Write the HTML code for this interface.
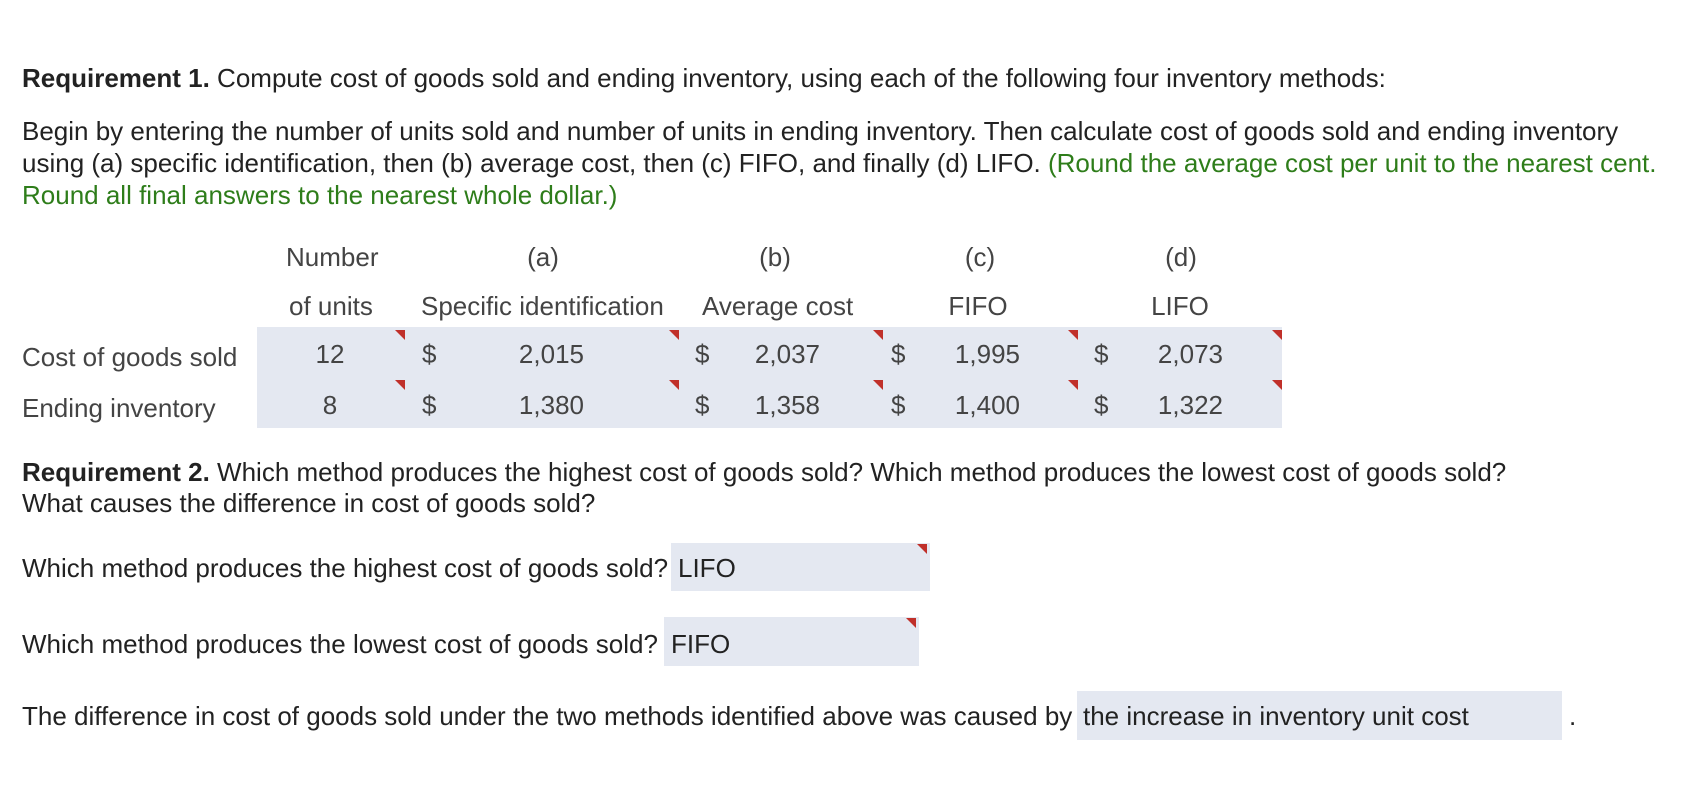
<!DOCTYPE html>
<html><head><meta charset="utf-8"><style>
body{margin:0;width:1692px;height:798px;background:#fff;font-family:"Liberation Sans",Arial,sans-serif;position:relative;overflow:hidden}
.t{position:absolute;white-space:nowrap;font-size:26px;color:#222;line-height:1}
.g{color:#2e7d1a}
.c{position:absolute;white-space:nowrap;font-size:26px;color:#444;line-height:1}
.m{transform:translateX(-50%)}
.r{transform:translateX(-100%)}
.bg{position:absolute;background:#e4e8f1}
.tri{position:absolute;width:0;height:0;border-top:10px solid #c0302a;border-left:10px solid transparent}
</style></head><body>
<div class="t" style="left:22px;top:65px"><b>Requirement 1.</b> Compute cost of goods sold and ending inventory, using each of the following four inventory methods:</div>
<div class="t" style="left:22px;top:118px">Begin by entering the number of units sold and number of units in ending inventory. Then calculate cost of goods sold and ending inventory</div>
<div class="t" style="left:22px;top:150px">using (a) specific identification, then (b) average cost, then (c) FIFO, and finally (d) LIFO. <span class="g">(Round the average cost per unit to the nearest cent.</span></div>
<div class="t g" style="left:22px;top:182px">Round all final answers to the nearest whole dollar.)</div>

<div class="bg" style="left:257px;top:327px;width:1025px;height:101px"></div>

<div class="c" style="left:286px;top:244px">Number</div>
<div class="c" style="left:289px;top:293px">of units</div>
<div class="c m" style="left:543px;top:244px">(a)</div>
<div class="c" style="left:421px;top:293px">Specific identification</div>
<div class="c m" style="left:775px;top:244px">(b)</div>
<div class="c" style="left:702px;top:293px">Average cost</div>
<div class="c m" style="left:980px;top:244px">(c)</div>
<div class="c m" style="left:978px;top:293px">FIFO</div>
<div class="c m" style="left:1181px;top:244px">(d)</div>
<div class="c m" style="left:1180px;top:293px">LIFO</div>

<div class="c" style="left:22px;top:344px">Cost of goods sold</div>
<div class="c" style="left:22px;top:395px">Ending inventory</div>

<div class="c m" style="left:330px;top:341px">12</div>
<div class="c m" style="left:330px;top:392px">8</div>

<div class="c" style="left:422px;top:341px">$</div>
<div class="c r" style="left:584px;top:341px">2,015</div>
<div class="c" style="left:422px;top:392px">$</div>
<div class="c r" style="left:584px;top:392px">1,380</div>

<div class="c" style="left:695px;top:341px">$</div>
<div class="c r" style="left:820px;top:341px">2,037</div>
<div class="c" style="left:695px;top:392px">$</div>
<div class="c r" style="left:820px;top:392px">1,358</div>

<div class="c" style="left:891px;top:341px">$</div>
<div class="c r" style="left:1020px;top:341px">1,995</div>
<div class="c" style="left:891px;top:392px">$</div>
<div class="c r" style="left:1020px;top:392px">1,400</div>

<div class="c" style="left:1094px;top:341px">$</div>
<div class="c r" style="left:1223px;top:341px">2,073</div>
<div class="c" style="left:1094px;top:392px">$</div>
<div class="c r" style="left:1223px;top:392px">1,322</div>

<div class="tri" style="left:395px;top:330px"></div>
<div class="tri" style="left:669px;top:330px"></div>
<div class="tri" style="left:873px;top:330px"></div>
<div class="tri" style="left:1068px;top:330px"></div>
<div class="tri" style="left:1272px;top:330px"></div>
<div class="tri" style="left:395px;top:380px"></div>
<div class="tri" style="left:669px;top:380px"></div>
<div class="tri" style="left:873px;top:380px"></div>
<div class="tri" style="left:1068px;top:380px"></div>
<div class="tri" style="left:1272px;top:380px"></div>

<div class="t" style="left:22px;top:459px"><b>Requirement 2.</b> Which method produces the highest cost of goods sold? Which method produces the lowest cost of goods sold?</div>
<div class="t" style="left:22px;top:490px">What causes the difference in cost of goods sold?</div>

<div class="t" style="left:22px;top:555px">Which method produces the highest cost of goods sold?</div>
<div class="bg" style="left:671px;top:543px;width:259px;height:48px"></div>
<div class="t" style="left:678px;top:555px">LIFO</div>
<div class="tri" style="left:917px;top:544px"></div>

<div class="t" style="left:22px;top:631px">Which method produces the lowest cost of goods sold?</div>
<div class="bg" style="left:664px;top:617px;width:255px;height:49px"></div>
<div class="t" style="left:671px;top:631px">FIFO</div>
<div class="tri" style="left:906px;top:618px"></div>

<div class="t" style="left:22px;top:703px">The difference in cost of goods sold under the two methods identified above was caused by</div>
<div class="bg" style="left:1077px;top:691px;width:485px;height:49px"></div>
<div class="t" style="left:1083px;top:703px">the increase in inventory unit cost</div>
<div class="t" style="left:1569px;top:703px">.</div>
</body></html>
